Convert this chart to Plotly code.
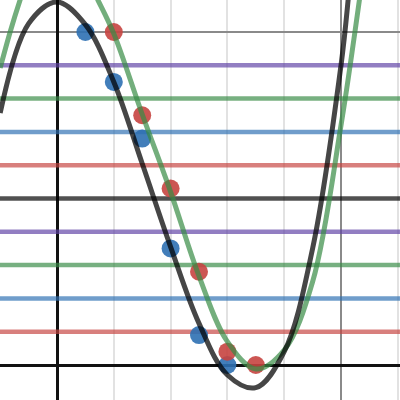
import plotly.graph_objects as go

x_lo, x_hi = -0.2007, 1.2077
y_lo, y_hi = -0.1051, 1.0961

# horizontal reference lines
h_levels = [0.1, 0.2, 0.3, 0.4, 0.5, 0.6, 0.7, 0.8, 0.9]
h_colors = ["#c74440", "#2d70b3", "#388c46", "#6042a6", "#000000",
            "#c74440", "#2d70b3", "#388c46", "#6042a6"]

# points
blue_x = [0.1, 0.2, 0.3, 0.4, 0.5, 0.6]
blue_y = [1.0, 0.85, 0.68, 0.35, 0.09, 0.0]
red_x = [0.2, 0.3, 0.4, 0.5, 0.6, 0.7]
red_y = [1.0, 0.75, 0.53, 0.28, 0.04, 0.0]

# black curve
black_x = [-0.2, -0.1, 0.0, 0.1, 0.2, 0.3, 0.4, 0.5, 0.6, 0.7, 0.8, 0.9, 1.0, 1.025, 1.05]
black_y = [0.757, 1.025, 1.09, 1.022, 0.85, 0.605, 0.355, 0.125, -0.03, -0.068,
           0.04, 0.35, 0.9, 1.096, 1.35]

# green curve (its peak is above the view)
green_x = [-0.2, -0.165, -0.13, -0.1, 0.0, 0.1, 0.144, 0.2, 0.3, 0.4, 0.5, 0.6,
           0.7, 0.8, 0.9, 1.0, 1.049, 1.09]
green_y = [0.892, 1.0, 1.096, 1.17, 1.27, 1.17, 1.096, 0.995, 0.753, 0.52, 0.267,
           0.07, -0.012, 0.045, 0.25, 0.72, 1.0, 1.25]

fig = go.Figure()

for lvl, col in zip(h_levels, h_colors):
    fig.add_trace(go.Scatter(x=[x_lo, x_hi], y=[lvl, lvl], mode="lines",
                             line=dict(color=col, width=4.5), opacity=0.68,
                             hoverinfo="skip"))

fig.add_trace(go.Scatter(x=blue_x, y=blue_y, mode="markers",
                         marker=dict(color="#2d70b3", size=18, opacity=0.9)))
fig.add_trace(go.Scatter(x=red_x, y=red_y, mode="markers",
                         marker=dict(color="#c74440", size=18, opacity=0.9)))

fig.add_trace(go.Scatter(x=green_x, y=green_y, mode="lines",
                         line=dict(color="#388c46", width=5, shape="spline"),
                         opacity=0.7))
fig.add_trace(go.Scatter(x=black_x, y=black_y, mode="lines",
                         line=dict(color="#000000", width=5, shape="spline"),
                         opacity=0.72))

fig.update_xaxes(range=[x_lo, x_hi], tickvals=[1], showticklabels=False,
                 gridcolor="#8a8a8a", gridwidth=2,
                 minor=dict(tickvals=[0.2, 0.4, 0.6, 0.8, 1.2], showgrid=True,
                            gridcolor="#e2e2e2", gridwidth=1.5, ticks=""),
                 zeroline=True, zerolinecolor="#111111", zerolinewidth=3,
                 showline=False, fixedrange=True)
fig.update_yaxes(range=[y_lo, y_hi], tickvals=[1], showticklabels=False,
                 gridcolor="#8a8a8a", gridwidth=2,
                 zeroline=True, zerolinecolor="#111111", zerolinewidth=3,
                 showline=False, fixedrange=True)

fig.update_layout(width=400, height=400, margin=dict(l=0, r=0, t=0, b=0),
                  plot_bgcolor="white", paper_bgcolor="white", showlegend=False)

fig.write_html("out.html", config={"displayModeBar": False},
               post_script="document.body.style.margin='0px';")
